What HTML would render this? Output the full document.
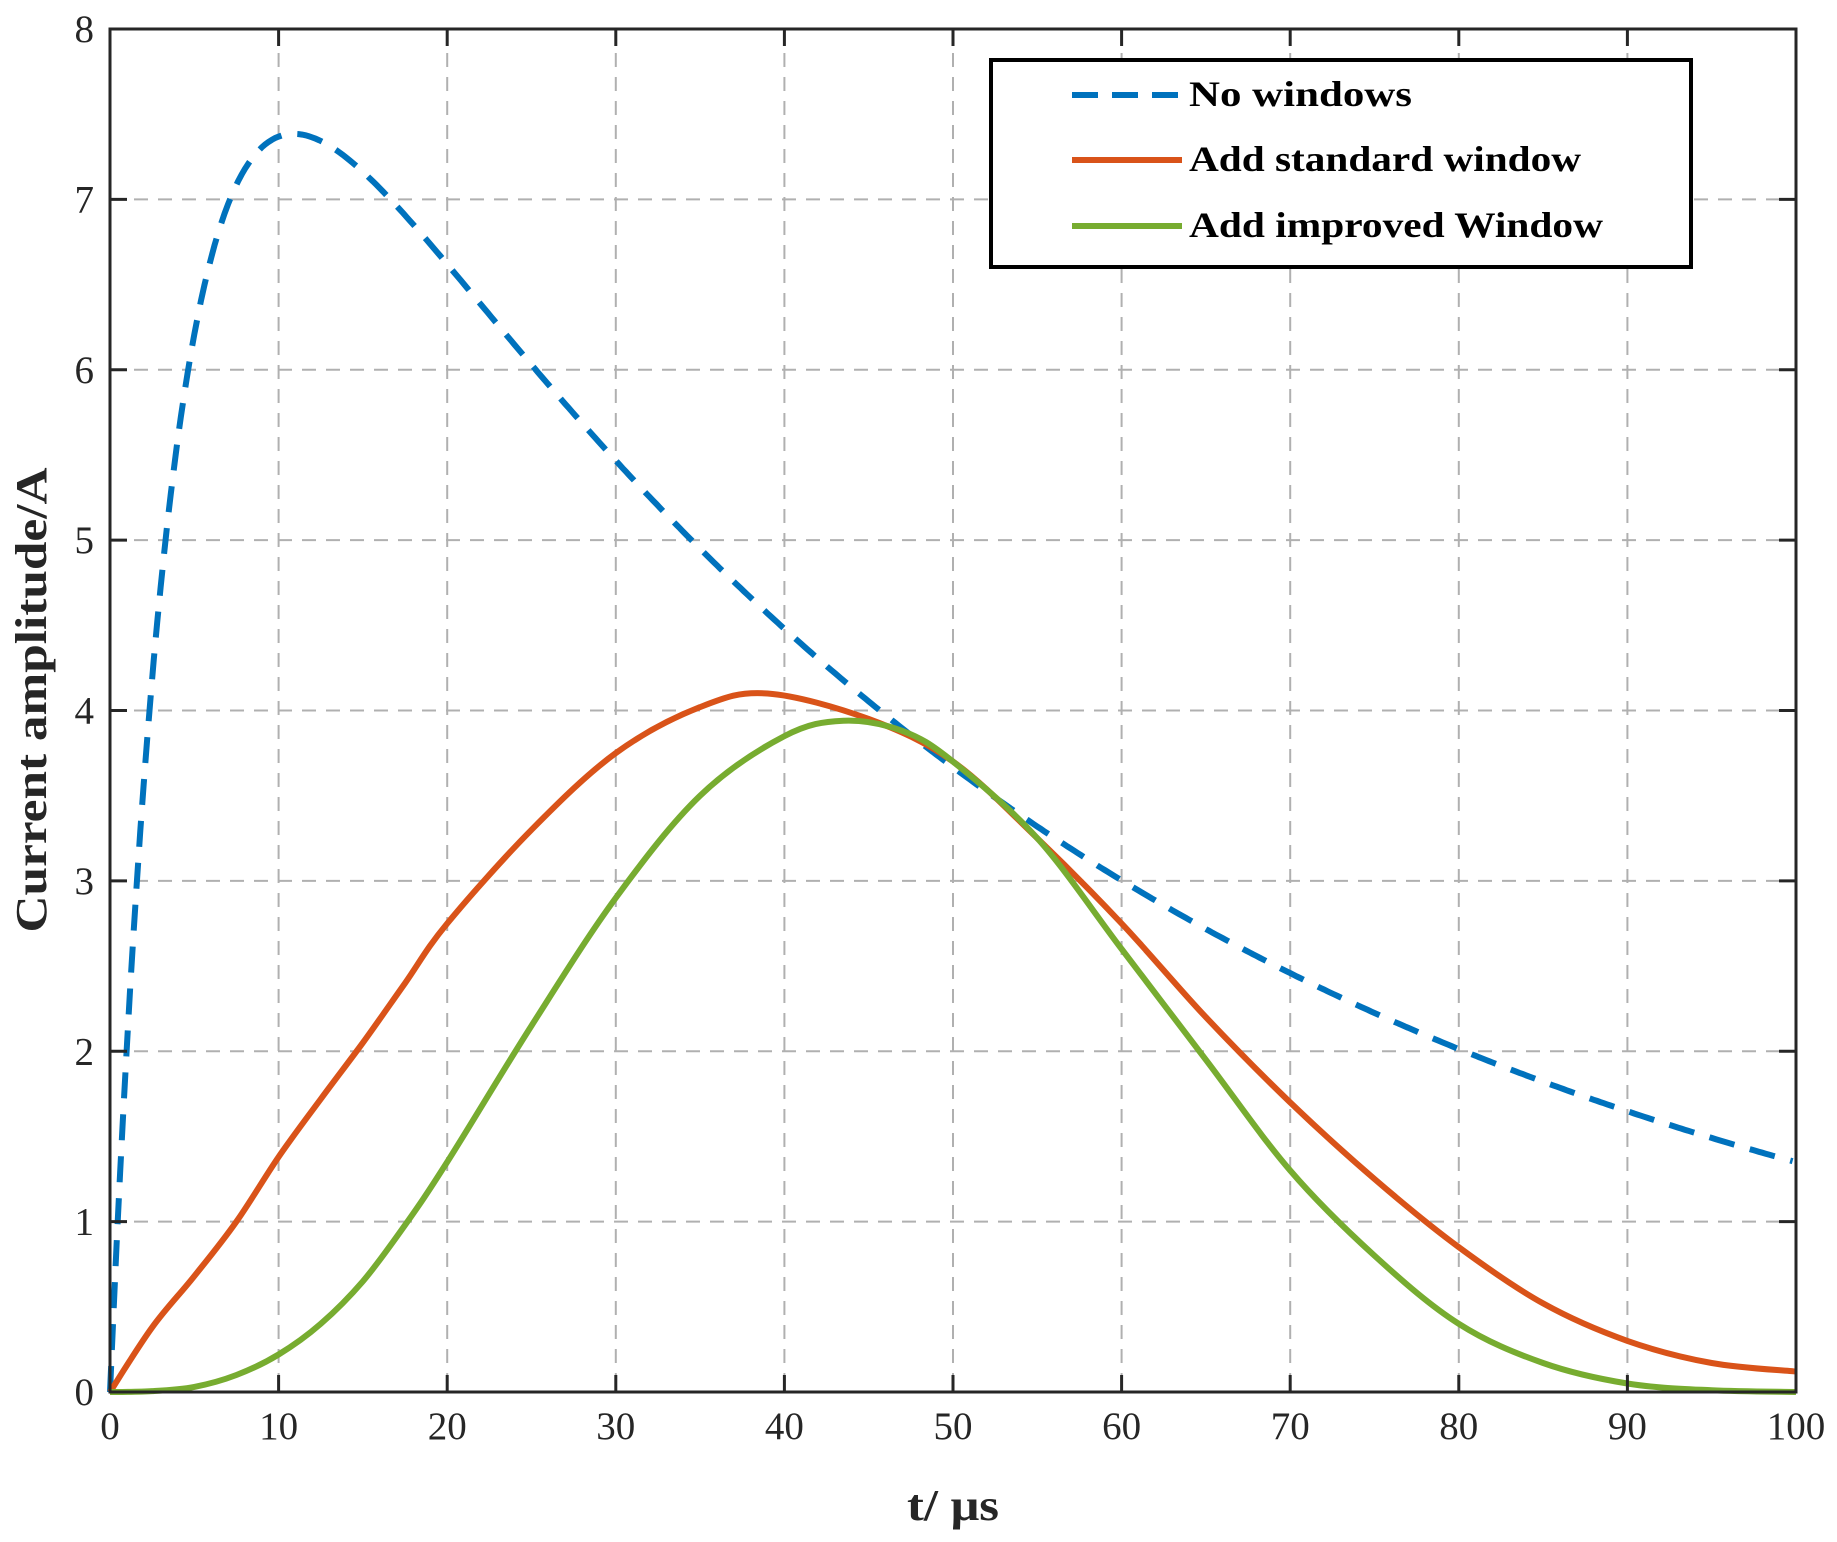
<!DOCTYPE html>
<html><head><meta charset="utf-8"><style>
html,body{margin:0;padding:0;background:#fff}
svg{display:block}
text{font-family:"Liberation Serif",serif;fill:#262626}
</style></head><body>
<svg id="s" width="1837" height="1542" viewBox="0 0 1837 1542" xmlns="http://www.w3.org/2000/svg">
<g id="grid" stroke="#b0b0b0" stroke-width="2" stroke-dasharray="14,10"></g>
<g id="curves" fill="none" stroke-width="6"></g>
<rect x="110" y="29" width="1686" height="1363" fill="none" stroke="#262626" stroke-width="3"/>
<g id="ticks" stroke="#262626" stroke-width="3"></g>
<g id="labels" font-size="39"></g>
<text x="953" y="1520" font-size="44" font-weight="bold" text-anchor="middle" textLength="92" lengthAdjust="spacingAndGlyphs">t/ μs</text>
<text transform="translate(46,700) rotate(-90)" font-size="44" font-weight="bold" text-anchor="middle" textLength="465" lengthAdjust="spacingAndGlyphs">Current amplitude/A</text>
<rect x="991" y="60" width="700" height="207" fill="#fff" stroke="#000" stroke-width="4"/>
<line x1="1072" y1="95" x2="1182" y2="95" stroke="#0072bd" stroke-width="6" stroke-dasharray="26,14"/>
<line x1="1072" y1="160" x2="1182" y2="160" stroke="#d95319" stroke-width="6"/>
<line x1="1072" y1="226" x2="1182" y2="226" stroke="#77ac30" stroke-width="6"/>
<g font-size="36" font-weight="bold">
<text x="1189" y="106" style="fill:#000" textLength="223" lengthAdjust="spacingAndGlyphs">No windows</text>
<text x="1189" y="171" style="fill:#000" textLength="392" lengthAdjust="spacingAndGlyphs">Add standard window</text>
<text x="1189" y="237" style="fill:#000" textLength="414" lengthAdjust="spacingAndGlyphs">Add improved Window</text>
</g>
</svg>
<script>
var X=t=>110+t*16.86, Y=v=>1392-v*170.375;
var ns="http://www.w3.org/2000/svg";
function el(p,n,a,txt){var e=document.createElementNS(ns,n);for(var k in a)e.setAttribute(k,a[k]);if(txt!==undefined)e.textContent=txt;document.getElementById(p).appendChild(e);}
for(var i=1;i<10;i++)el("grid","line",{x1:X(i*10),x2:X(i*10),y1:29,y2:1392});
for(var j=1;j<8;j++)el("grid","line",{x1:110,x2:1796,y1:Y(j),y2:Y(j)});
for(var i=0;i<=10;i++){var x=X(i*10);el("ticks","line",{x1:x,x2:x,y1:1392,y2:1375});el("ticks","line",{x1:x,x2:x,y1:29,y2:46});
 el("labels","text",{x:x,y:1439,"text-anchor":"middle"},String(i*10));}
for(var j=0;j<=8;j++){var y=Y(j);el("ticks","line",{x1:110,x2:127,y1:y,y2:y});el("ticks","line",{x1:1796,x2:1779,y1:y,y2:y});
 el("labels","text",{x:94,y:y+13,"text-anchor":"end"},String(j));}
var d="";for(var t=0;t<=100;t+=0.2){var v=9.97*(Math.exp(-0.02*t)-Math.exp(-0.253*t));d+=(t?"L":"M")+X(t).toFixed(1)+","+Y(v).toFixed(1);}
el("curves","path",{d:d,stroke:"#0072bd","stroke-dasharray":"26,16"});
function spline(pts){var s="M"+X(pts[0][0])+","+Y(pts[0][1]);
 for(var i=0;i<pts.length-1;i++){var p0=pts[Math.max(0,i-1)],p1=pts[i],p2=pts[i+1],p3=pts[Math.min(pts.length-1,i+2)];
  var P=p=>[X(p[0]),Y(p[1])];var a=P(p0),b=P(p1),c=P(p2),e=P(p3);
  var c1=[b[0]+(c[0]-a[0])/6,b[1]+(c[1]-a[1])/6],c2=[c[0]-(e[0]-b[0])/6,c[1]-(e[1]-b[1])/6];
  s+="C"+c1[0].toFixed(1)+","+c1[1].toFixed(1)+" "+c2[0].toFixed(1)+","+c2[1].toFixed(1)+" "+c[0].toFixed(1)+","+c[1].toFixed(1);}
 return s;}
var orange=[[0,0],[2.5,0.38],[5,0.68],[7.5,1.0],[10,1.38],[12.5,1.72],[15,2.05],[17.5,2.4],[20,2.75],[25,3.3],[30,3.75],[35,4.02],[39,4.1],[45,3.95],[50,3.7],[55,3.25],[60,2.75],[65,2.2],[70,1.7],[75,1.25],[80,0.85],[85,0.52],[90,0.3],[95,0.17],[100,0.12]];
var green=[[0,0],[2.5,0.005],[5,0.03],[7.5,0.1],[10,0.22],[12.5,0.4],[15,0.65],[17.5,0.98],[20,1.35],[25,2.15],[30,2.9],[35,3.5],[40,3.85],[43.5,3.94],[47,3.88],[50,3.7],[55,3.25],[60,2.6],[65,1.95],[70,1.3],[75,0.8],[80,0.4],[85,0.17],[90,0.05],[95,0.01],[100,0]];
el("curves","path",{d:spline(orange),stroke:"#d95319"});
el("curves","path",{d:spline(green),stroke:"#77ac30"});
</script>
</body></html>
